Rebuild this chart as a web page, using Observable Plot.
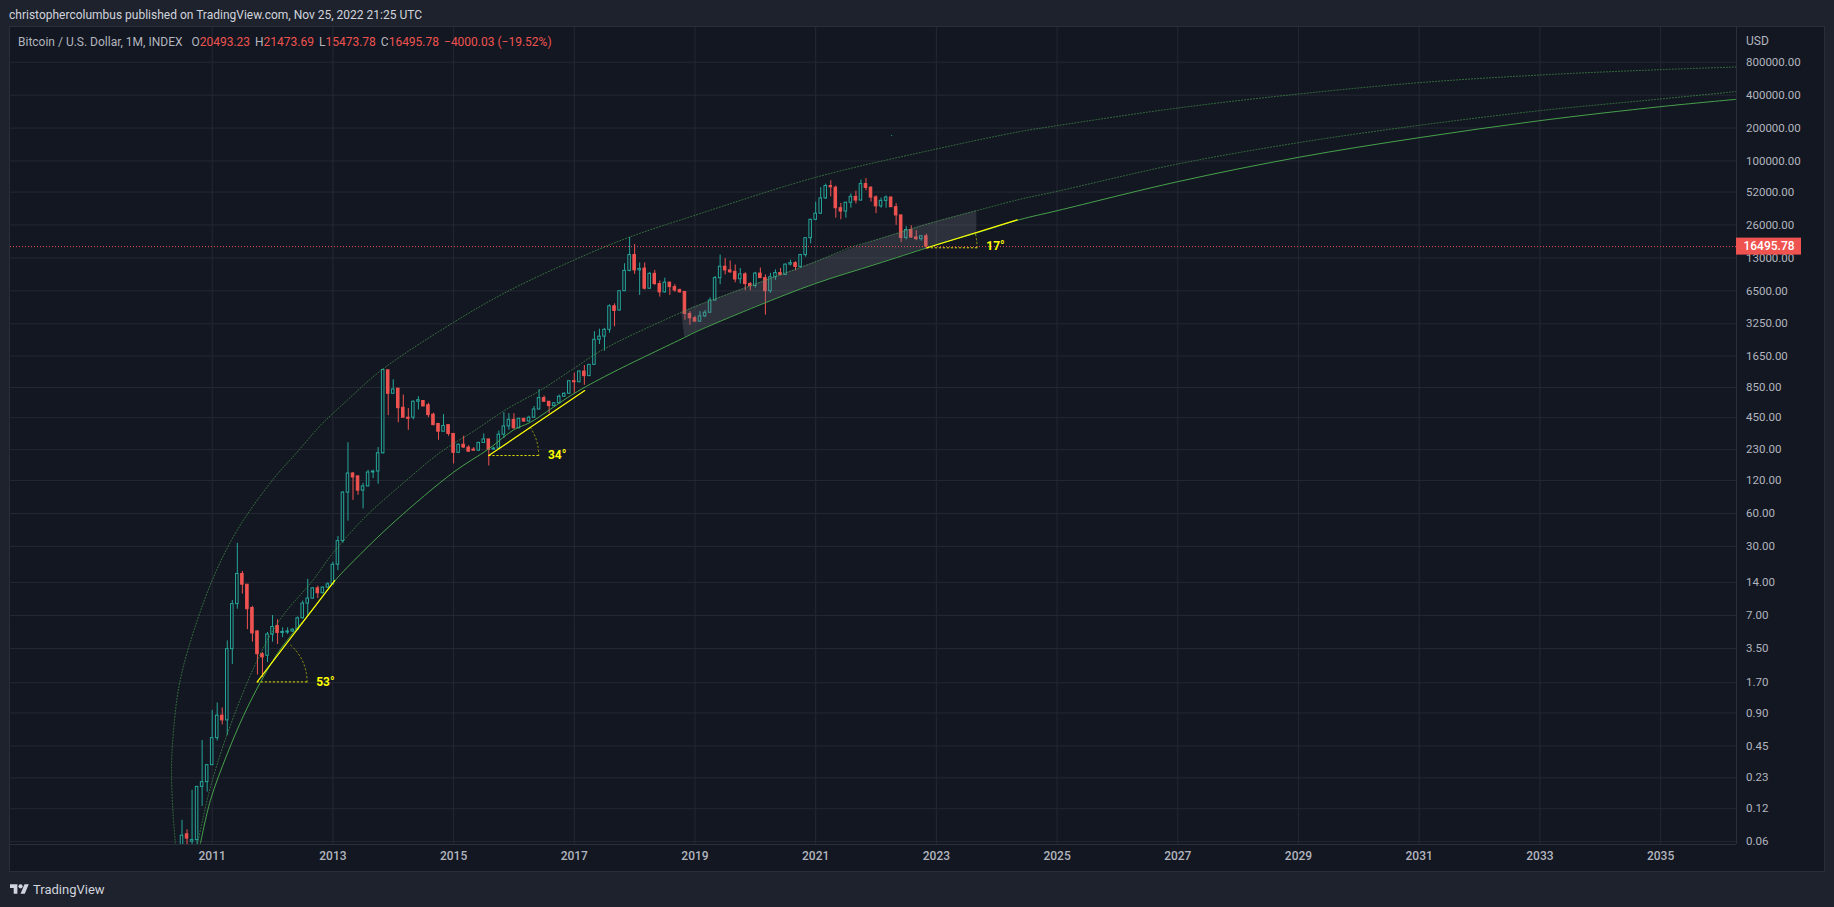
<!DOCTYPE html>
<html>
<head>
<meta charset="utf-8">
<script src="https://cdn.jsdelivr.net/npm/d3@7"></script>
<script src="https://cdn.jsdelivr.net/npm/@observablehq/plot@0.6"></script>
<style>
  html, body { margin: 0; padding: 0; background: #1e222d; width: 1834px; height: 907px; overflow: hidden; font-family: Roboto, sans-serif; }
  #head { position: absolute; left: 9px; top: 7px; font-size: 12px; line-height: 16px; color: #d1d4dc; white-space: pre; }
  #pane { position: absolute; left: 10px; top: 27px; width: 1814px; height: 844px; background: #131722; box-shadow: 0 0 0 1px #2a2e39; }
  #legend { position: absolute; left: 8px; top: 7px; font-size: 12px; line-height: 16px; color: #b2b5be; white-space: pre; }
  #legend b { font-weight: 400; color: #ef5350; }
  #legend s { display: inline-block; width: 5px; text-decoration: none; }
  #usd { position: absolute; left: 1736px; top: 6px; font-size: 12px; line-height: 16px; color: #b2b5be; }
  #foot { position: absolute; left: 10px; top: 880px; height: 18px; display: flex; align-items: center; gap: 4px; color: #d1d4dc; font-size: 13px; }
</style>
</head>
<body>
<div id="head">christophercolumbus published on TradingView.com, Nov 25, 2022 21:25 UTC</div>
<div id="pane">
  <div id="chart"></div>
  <div id="legend">Bitcoin / U.S. Dollar, 1M, INDEX   O<b>20493.23</b><s></s>H<b>21473.69</b><s></s>L<b>15473.78</b><s></s>C<b>16495.78</b><s></s><b>−4000.03 (−19.52%)</b></div>
  <div id="usd">USD</div>
</div>
<div id="foot"><svg width="19" height="15" viewBox="0 0 36 28" fill="#d1d4dc"><path d="M14 22H7V11H0V4h14v18zM28 22h-8l7.5-18h8L28 22z"/><circle cx="20" cy="8" r="4"/></svg><span>TradingView</span></div>
<script>
const firstCandleYear = 2010.5;
const opens = [
  .05,.07,.06,.062,.19,.21,
  .30,.53,.85,.77,3.45,8.9,16.8,13.4,8.2,5,3.1,3,
  4.7,5.6,4.85,4.9,5,5.2,6.6,9,10,12.4,11.2,12.6,
  13.5,20.4,33.5,93,139,131,97,106,142,145,213,1220,
  745,830,555,450,450,630,640,585,480,395,335,385,
  320,215,255,240,230,225,265,285,230,235,315,375,
  430,360,440,415,450,535,680,630,575,610,700,745,
  970,950,1190,1080,1370,2320,2480,2860,4700,4300,6450,9900,
  13800,10000,10400,6800,9300,7500,6300,7730,7030,6600,6350,4000,
  3650,3400,3800,4100,5300,8500,10800,10000,9700,8300,9200,7500,
  7200,9350,8500,6450,8650,9450,9100,11300,11650,10750,13800,19700,
  29000,33000,45500,59000,57000,37000,34500,41500,47000,43500,61500,57000,
  46500,38500,43200,46300,37800,31800,19800,23400,20000,19300,20493.23
];
const closes = [
  .068,.064,.062,.19,.21,.30,
  .53,.85,.77,3.45,8.9,16.8,13.4,8,4.8,3.1,2.9,4.7,
  5.5,4.85,4.95,5,5.2,6.6,9,10,12.4,11.2,12.6,13.5,
  20.4,33.5,93,139,128,97,106,142,145,213,1230,745,
  815,550,450,440,630,650,570,475,385,335,378,320,
  215,255,240,220,225,265,285,230,235,315,375,430,
  360,440,415,450,535,680,630,575,610,700,745,970,
  950,1190,1080,1370,2320,2480,2860,4700,4260,6450,9900,13800,
  10000,10300,6800,9300,7500,6300,7730,7030,6550,6300,4000,3650,
  3400,3800,4100,5300,8500,10800,10000,9600,8250,9200,7500,7200,
  9350,8500,6450,8650,9450,9100,11300,11650,10750,13800,19700,29000,
  33000,45500,59000,57500,37000,34500,41500,47000,43500,61500,56800,46300,
  38500,43200,46300,37800,31800,19800,23400,20000,19300,20500,16495.78
];
const highs = [
  .094,.077,.177,.19,.505,.30,
  .95,1.11,1.0,4.1,9.6,32,17.7,13.4,8.5,5.1,3.2,4.9,
  7,6.4,5.4,5.4,5.3,6.8,9.5,15,12.6,13,12.8,14,
  21.5,37,95,266,142,131,113,149,149,240,1240,1220,
  1000,830,725,545,640,700,645,610,495,395,480,385,
  320,258,305,250,240,268,320,285,242,340,500,490,
  490,445,440,465,570,815,710,630,615,725,760,975,
  1150,1200,1350,1380,2750,2900,2950,4850,4950,6500,11500,20000,
  17200,11700,11700,9600,10000,8000,8500,7800,7400,6750,6400,4200,
  3800,4200,4300,5600,8800,13800,12800,12200,11200,10400,9500,7750,
  9600,10500,9100,9400,10100,10400,11400,12400,12000,14000,19800,29300,
  42000,57000,61500,66000,59000,41000,42000,50000,53000,67000,69000,58000,
  48000,45800,48000,47000,40700,32000,25100,25600,23100,20800,21473.69
];
const lows = [
  .05,.05,.055,.055,.126,.17,
  .3,.5,.7,.56,2.5,8,11,5.2,4,2,1.9,2.6,
  4,3.8,4.4,4.7,4.9,5.1,6.5,7,9.9,10,11,12.4,
  13.3,18,32,51,79,88,66,105,125,111,210,470,
  745,405,450,345,430,530,570,450,380,280,335,305,
  170,215,238,220,224,222,265,163,229,233,290,345,
  355,360,410,410,445,530,625,490,570,605,690,740,
  750,940,890,1070,1360,2100,1830,2670,3050,4250,6400,9700,
  9200,5900,6600,6700,7300,5700,6200,5900,6300,6200,3500,3150,
  3400,3380,3700,4090,5250,7400,9100,9400,7700,7500,6500,6500,
  6900,8500,3900,6200,8100,8900,8950,11000,9900,10500,13200,17500,
  28500,32500,44500,47000,30000,29000,30000,37000,40500,43000,53500,42000,
  33000,37000,37000,37600,25800,17900,19000,19600,18700,18500,15473.78
];

const yTicks = [800000,400000,200000,100000,52000,26000,13000,6500,3250,1650,850,450,230,120,60,30,14,7,3.5,1.7,0.9,0.45,0.23,0.12,0.06];
const xTicks = [2011,2013,2015,2017,2019,2021,2023,2025,2027,2029,2031,2033,2035];
const lastPrice = 16495.78;

const solidYears = [2010.806,2010.97,2011.25,2011.52,2011.8,2012.08,2012.35,2012.63,2013.01,2013.46,2014.04,2015,2015.58,2016,2016.27,2016.98,2017.59,2018.83,2019,2020,2021,2022,2022.83,2023,2023.67,2024.38,2025,2027,2029,2031,2033,2035,2036.25];
const solidPrices = [.058,.143,.381,.853,1.72,3.14,4.93,7.51,14.1,25.6,51.6,143,233,350,408,740,1133,2440,2720,4650,7600,11400,16000,17200,22000,29100,35100,64700,108000,163400,233700,313800,366000];

const midYears = [2010.76,2010.945,2011.22,2011.72,2012.13,2012.66,2013,2013.54,2014.2,2014.78,2015.33,2015.88,2016.43,2016.98,2017.5,2018.78,2019,2020,2021,2021.57,2022,2023,2023.67,2024.38,2025,2027,2029,2031,2033,2035,2036.25];
const midPrices = [.058,.166,.52,2.54,6.5,14.5,26,56,118,217,338,540,795,1256,1920,4150,4670,7500,12000,16200,19000,28000,35200,44600,52800,93900,147100,211800,288500,368800,431000];

const topYears = [2010.39,2010.348,2010.326,2010.365,2010.448,2010.613,2011,2011.414,2011.994,2012.436,2012.797,2013.238,2013.8,2015,2015.87,2017,2017.9,2019,2021,2023,2024.38,2025,2027,2029,2031,2033,2035,2036.25];
const topPrices = [.0583,.117,.29,.67,1.56,3.62,14.7,42.2,120,227,384,650,1220,3350,6320,12460,20000,31900,70900,128700,185400,210400,305000,409500,520000,611000,684000,723000];

const bandLowerYears = [2018.83,2019,2020,2021,2022,2022.83,2023,2023.67];
const bandLower = [2440,2720,4650,7600,11400,16000,17200,22000];
const bandUpperYears = [2018.78,2019,2020,2021,2022,2022.83,2023,2023.67];
const bandUpper = [4150,4670,7500,12000,19000,26500,28000,35200];

const trendLines = [
  {years:[2011.746,2013.03], prices:[1.73,14.6]},
  {years:[2015.583,2017.174], prices:[203,798]},
  {years:[2022.847,2024.339], prices:[16090,29000]}
];
const angleBases = [
  {years:[2011.746,2012.574], prices:[1.73,1.73]},
  {years:[2015.583,2016.412], prices:[203,203]},
  {years:[2022.847,2023.676], prices:[16090,16090]}
];
const angleArcs = [
  {years:[2012.574,2012.561,2012.524,2012.463,2012.38,2012.278], prices:[1.73,2.07,2.48,2.92,3.39,3.86]},
  {years:[2016.412,2016.399,2016.362,2016.301,2016.271], prices:[203,244,292,345,367]},
  {years:[2023.676,2023.668,2023.648], prices:[16090,18560,21700]}
];
const angleLabels = ["53°","34°","17°"];
const angleLabelYears = [2012.876,2016.716,2023.98];
const angleLabelPrices = [1.73,203,16495.78];

const xDomain = [2007.658,2036.258];
const yDomain = [0.0565,1660600];
const bg = "#131722", teal = "#26a69a", red = "#ef5350", green = "#4caf50", yellow = "#ffff00", grid = "#242833", axisText = "#b2b5be", edge = "#2a2e39";

const candles = opens.map((o,i)=>({t:firstCandleYear+i/12,o,c:closes[i],h:highs[i],l:lows[i]}));
const ups = candles.filter(d=>d.c>=d.o), downs = candles.filter(d=>d.c<d.o);
const bodyHalf = 0.021;
const pts = (ys,ps)=>ys.map((x,i)=>({x,y:ps[i]}));
const band = bandLowerYears.map((x,i)=>({x1:x,y1:bandLower[i],x2:bandUpperYears[i],y2:bandUpper[i]}));
const curve = {x:"x",y:"y",curve:"catmull-rom",clip:true};
const tag = {x1:xDomain[1],x2:xDomain[1]+1.077,y1:lastPrice*Math.pow(2,-8.5/32.93),y2:lastPrice*Math.pow(2,8.5/32.93)};

const chart = Plot.plot({
  width:1814, height:844,
  marginLeft:0, marginRight:88, marginTop:0, marginBottom:27,
  style:{background:bg,fontFamily:"Roboto, sans-serif",overflow:"visible"},
  x:{type:"linear",domain:xDomain,axis:null},
  y:{type:"log",domain:yDomain,axis:null},
  marks:[
    Plot.gridX(xTicks,{stroke:grid,strokeOpacity:1}),
    Plot.gridY(yTicks,{stroke:grid,strokeOpacity:1}),
    Plot.axisX(xTicks,{anchor:"bottom",tickSize:0,tickPadding:7,tickFormat:d=>String(d),fill:axisText,fontSize:12,fontWeight:500,label:null}),
    Plot.text(yTicks,{x:xDomain[1],y:d=>d,dx:9.5,textAnchor:"start",text:d=>d3.format(".2f")(d),fill:axisText,fontSize:11.5}),
    Plot.ruleX(ups,{x:"t",y1:"l",y2:"h",stroke:teal,strokeWidth:1,clip:true}),
    Plot.ruleX(downs,{x:"t",y1:"l",y2:"h",stroke:red,strokeWidth:1,clip:true}),
    Plot.rect(ups,{x1:d=>d.t-bodyHalf,x2:d=>d.t+bodyHalf,y1:"o",y2:"c",fill:bg,stroke:teal,strokeWidth:1,clip:true}),
    Plot.rect(downs,{x1:d=>d.t-bodyHalf,x2:d=>d.t+bodyHalf,y1:"o",y2:"c",fill:red,stroke:red,strokeWidth:1,clip:true}),
    Plot.dot([{x:2022.26,y:171000}],{x:"x",y:"y",r:0.6,fill:teal}),
    Plot.area(band,{x1:"x1",y1:"y1",x2:"x2",y2:"y2",fill:"#787b86",fillOpacity:0.27}),
    Plot.line(pts(topYears,topPrices),{...curve,stroke:green,strokeOpacity:0.6,strokeWidth:1,strokeDasharray:"1 2"}),
    Plot.line(pts(midYears,midPrices),{...curve,stroke:green,strokeOpacity:0.6,strokeWidth:1,strokeDasharray:"1 2"}),
    Plot.line(pts(solidYears,solidPrices),{...curve,stroke:green,strokeOpacity:0.9,strokeWidth:1}),
    Plot.ruleY([lastPrice],{stroke:red,strokeWidth:1,strokeDasharray:"1 2"}),
    ...trendLines.map(l=>Plot.line(pts(l.years,l.prices),{x:"x",y:"y",stroke:yellow,strokeWidth:1.2})),
    ...angleBases.map(l=>Plot.line(pts(l.years,l.prices),{x:"x",y:"y",stroke:yellow,strokeWidth:1,strokeDasharray:"1.5 2.5",strokeOpacity:0.85})),
    ...angleArcs.map(l=>Plot.line(pts(l.years,l.prices),{x:"x",y:"y",curve:"catmull-rom",stroke:yellow,strokeWidth:1,strokeDasharray:"1.5 2.5",strokeOpacity:0.5})),
    Plot.text(angleLabels,{x:(d,i)=>angleLabelYears[i],y:(d,i)=>angleLabelPrices[i],text:d=>d,fill:yellow,fontSize:12,fontWeight:700}),
    Plot.ruleX([xDomain[1]],{stroke:edge}),
    Plot.ruleY([yDomain[0]],{stroke:edge}),
    Plot.rect([tag],{x1:"x1",x2:"x2",y1:"y1",y2:"y2",fill:red}),
    Plot.text([lastPrice],{x:(xDomain[1]*2+1.077)/2,y:d=>d,text:d=>d3.format(".2f")(d),fill:"#ffffff",fontSize:12,fontWeight:500})
  ]
});
document.getElementById("chart").appendChild(chart);
</script>
</body>
</html>
